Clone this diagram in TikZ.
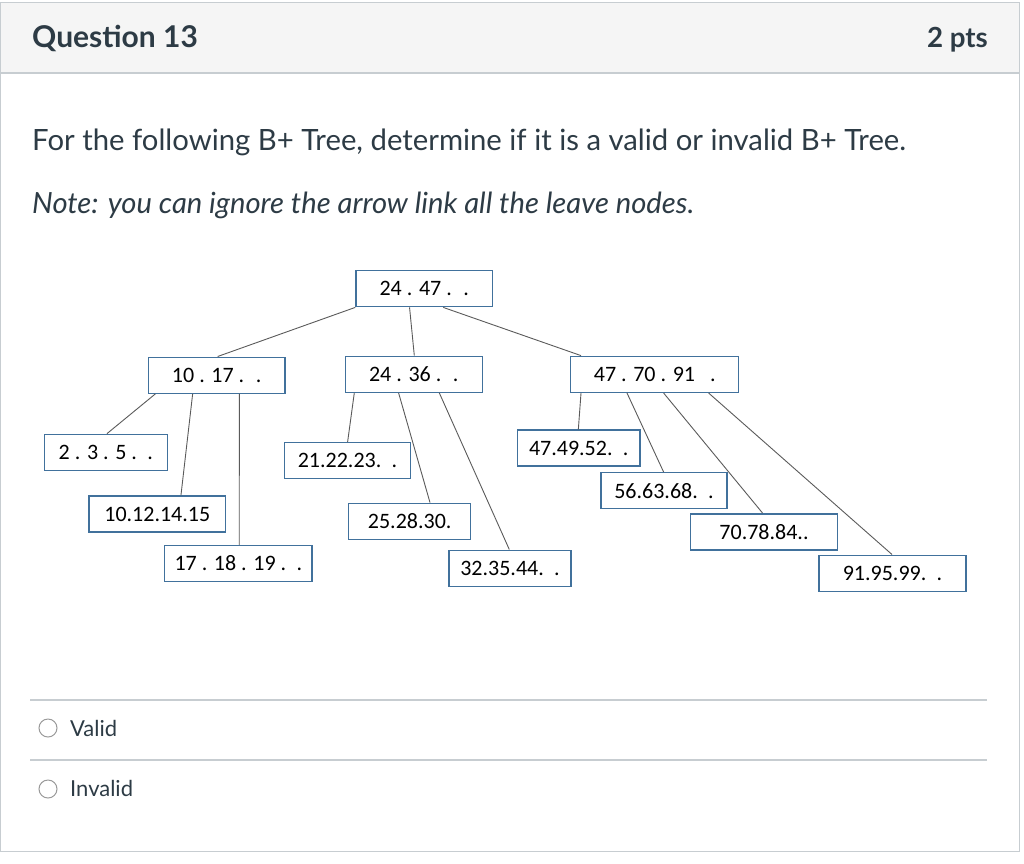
\documentclass[tikz,border=0pt]{standalone}
\usepackage{fontspec}
\setmainfont{Lato}
\newfontfamily\calibrifont{Carlito}
\definecolor{hdrbg}{HTML}{F5F5F5}
\definecolor{bordercol}{HTML}{C7CDD1}
\definecolor{txt}{HTML}{2D3B45}
\definecolor{boxblue}{HTML}{41719C}
\definecolor{linegray}{HTML}{5A5A5A}
\begin{document}
\begin{tikzpicture}[x=1pt,y=-1pt,
  bx/.style={draw=boxblue,line width=1.4pt,fill=white,inner sep=0pt,minimum height=36pt,font=\calibrifont\fontsize{22}{25}\selectfont,text=black},
  edge/.style={draw=linegray,line width=0.9pt},
  lbl/.style={anchor=base west,inner sep=0pt,text=txt},
  sep/.style={draw=bordercol,line width=1.3pt},
  radio/.style={circle,draw=gray!80,line width=1pt,minimum size=18pt,inner sep=0pt}]
\useasboundingbox (0,0) rectangle (1024,863);
% panel
\fill[hdrbg] (0,2) rectangle (1020,73);
\draw[bordercol,line width=1.3pt] (0.6,2.6) rectangle (1019.4,851.4);
\draw[bordercol,line width=1.3pt] (0,73) -- (1020,73);
\node[lbl,font=\bfseries\fontsize{30}{34}\selectfont] (q) at (32,47) {Question 13};
\node[lbl,anchor=base east,font=\bfseries\fontsize{27.7}{31}\selectfont] (pts) at (988,47) {2 pts};
\node[lbl,font=\fontsize{29.3}{33}\selectfont] (t1) at (32,150) {For the following B+ Tree, determine if it is a valid or invalid B+ Tree.};
\node[lbl,font=\itshape\fontsize{29.2}{33}\selectfont] (t2) at (32,213) {Note: you can ignore the arrow link all the leave nodes.};
% tree nodes
\path
 (424.3,288.7) node[bx,minimum width=136.7pt] (r) {24 . 47 . \ .}
 (216.7,375.2) node[bx,minimum width=136.7pt] (n1) {10 . 17 . \ .}
 (413.8,374.2) node[bx,minimum width=137pt] (n2) {24 . 36 . \ .}
 (654.7,374.3) node[bx,minimum width=168pt] (n3) {47 . 70 . 91 \ \ .}
 (105.8,452.3) node[bx,minimum width=123pt] (l1) {2 . 3 . 5 . \,.}
 (157.3,514) node[bx,minimum width=136.7pt] (l2) {10.12.14.15}
 (238.3,563.5) node[bx,minimum width=147.3pt] (l3) {17 . 18 . 19 . \,.}
 (347.5,460.7) node[bx,minimum width=126.4pt] (l4) {21.22.23. \,.}
 (409.7,521.3) node[bx,minimum width=122pt] (l5) {25.28.30.}
 (510,568.2) node[bx,minimum width=122pt] (l6) {32.35.44. \,.}
 (578.7,448) node[bx,minimum width=122.7pt] (l7) {47.49.52. \,.}
 (664,490.7) node[bx,minimum width=126pt] (l8) {56.63.68. \,.}
 (764,531.8) node[bx,minimum width=146.6pt] (l9) {70.78.84..}
 (892.5,573.2) node[bx,minimum width=147pt] (l10) {91.95.99. \,.};
\draw[edge] (r.south west) -- ([xshift=70pt]n1.north west);
\draw[edge] ([xshift=54.3pt]r.south west) -- ([xshift=69.7pt]n2.north west);
\draw[edge] ([xshift=88pt]r.south west) -- ([xshift=11pt]n3.north west);
\draw[edge] ([xshift=7.7pt]n1.south west) -- ([xshift=63.4pt]l1.north west);
\draw[edge] ([xshift=45pt]n1.south west) -- ([xshift=92.7pt]l2.north west);
\draw[edge] ([xshift=91.7pt]n1.south west) -- ([xshift=75.3pt]l3.north west);
\draw[edge] ([xshift=9.7pt]n2.south west) -- ([xshift=64pt]l4.north west);
\draw[edge] ([xshift=54pt]n2.south west) -- ([xshift=82pt]l5.north west);
\draw[edge] ([xshift=94.7pt]n2.south west) -- ([xshift=61pt]l6.north west);
\draw[edge] ([xshift=11pt]n3.south west) -- ([xshift=61.7pt]l7.north west);
\draw[edge] ([xshift=57pt]n3.south west) -- ([xshift=63.3pt]l8.north west);
\draw[edge] ([xshift=93.6pt]n3.south west) -- ([xshift=72.6pt]l9.north west);
\draw[edge] ([xshift=138.6pt]n3.south west) -- ([xshift=73.7pt]l10.north west);
% answers
\draw[sep] (30,700) -- (987,700);
\draw[sep] (30,760) -- (987,760);
\node[radio] (c1) at (48,728) {};
\node[radio] (c2) at (48,789) {};
\node[lbl,font=\fontsize{22}{26}\selectfont] (v) at (70,736) {Valid};
\node[lbl,font=\fontsize{22}{26}\selectfont] (iv) at (70,796) {Invalid};
\end{tikzpicture}
\end{document}
